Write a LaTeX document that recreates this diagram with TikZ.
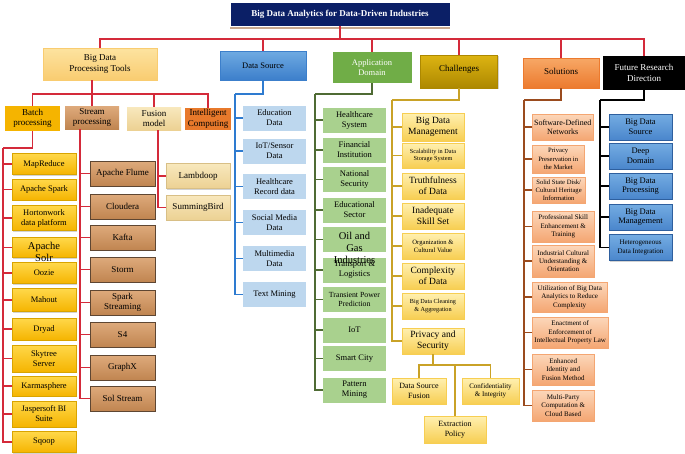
\documentclass[tikz,border=0pt]{standalone}
\usepackage{fontspec}
\setmainfont{Liberation Serif}
\usepackage{tikz}
\usetikzlibrary{positioning}
\usetikzlibrary{shadows}

\definecolor{navy}{HTML}{0B1F66}
\definecolor{tanline}{HTML}{C9A98E}
\definecolor{redline}{HTML}{D42A3A}
\definecolor{dsline}{HTML}{2E7BD0}
\definecolor{appline}{HTML}{4F6B34}
\definecolor{challine}{HTML}{C9A227}
\definecolor{solline}{HTML}{9A4B1E}
\definecolor{batchtop}{HTML}{FFD84A}
\definecolor{batchbot}{HTML}{F5B400}
\definecolor{batchedge}{HTML}{D9A400}
\definecolor{woodtop}{HTML}{DEAA7C}
\definecolor{woodbot}{HTML}{C08550}
\definecolor{woodedge}{HTML}{5E4632}
\definecolor{ltwoodtop}{HTML}{F8E8BD}
\definecolor{ltwoodbot}{HTML}{ECD193}
\definecolor{ltwoodedge}{HTML}{D8BF86}
\definecolor{intel}{HTML}{E8792B}
\definecolor{toolstop}{HTML}{FDE3A0}
\definecolor{toolsbot}{HTML}{F9CC70}
\definecolor{dstop}{HTML}{6FAAE2}
\definecolor{dsbot}{HTML}{3C7FCB}
\definecolor{dsitem}{HTML}{BDD7EE}
\definecolor{apphead}{HTML}{70AD47}
\definecolor{appitem}{HTML}{A9D18E}
\definecolor{chaltop}{HTML}{DDB412}
\definecolor{chalbot}{HTML}{AD8800}
\definecolor{citemtop}{HTML}{FFF0B0}
\definecolor{citembot}{HTML}{F7CE52}
\definecolor{soltop}{HTML}{F7A866}
\definecolor{solbot}{HTML}{EC7A2E}
\definecolor{sitemtop}{HTML}{FCD7BA}
\definecolor{sitembot}{HTML}{F4A672}
\definecolor{futtop}{HTML}{74ACE2}
\definecolor{futbot}{HTML}{4A86CC}
\definecolor{futedge}{HTML}{2E5F9E}

\tikzset{
 box/.style={rectangle, align=center, inner sep=1pt, font=\fontsize{8.5}{10}\selectfont},
 shad/.style={drop shadow={opacity=0.35, shadow xshift=1pt, shadow yshift=-1.2pt}},
 titlebox/.style={box, fill=navy, draw=white, text=white, font=\bfseries\fontsize{9}{11}\selectfont,
   minimum width=220pt, minimum height=24pt,
   drop shadow={opacity=1, fill=tanline, shadow xshift=0pt, shadow yshift=-2.5pt}},
 hdtools/.style={box, shad, top color=toolstop, bottom color=toolsbot, draw=toolsbot,
   minimum width=114pt, minimum height=32pt, font=\fontsize{9}{11}\selectfont},
 hdds/.style={box, shad, top color=dstop, bottom color=dsbot, draw=dsbot,
   minimum width=86pt, minimum height=29pt},
 hdapp/.style={box, fill=apphead, text=white, minimum width=79pt, minimum height=31pt},
 hdchal/.style={box, shad, top color=chaltop, bottom color=chalbot, draw=chalbot,
   minimum width=77pt, minimum height=33pt, font=\fontsize{9}{11}\selectfont},
 hdsol/.style={box, shad, top color=soltop, bottom color=solbot, draw=solbot,
   minimum width=76pt, minimum height=30pt, font=\fontsize{9}{11}\selectfont},
 hdfut/.style={box, fill=black, text=white, minimum width=82pt, minimum height=34pt,
   font=\fontsize{9}{11}\selectfont},
 subhd/.style={box, minimum height=23pt, font=\fontsize{9}{10.5}\selectfont},
 batchhd/.style={subhd, fill=batchbot, minimum width=55pt, minimum height=25pt},
 woodhd/.style={subhd, top color=woodtop, bottom color=woodbot, minimum width=54pt},
 ltwoodhd/.style={subhd, top color=ltwoodtop, bottom color=ltwoodbot, minimum width=54pt},
 intelhd/.style={subhd, fill=intel, minimum width=46pt, minimum height=22pt},
 batchbox/.style={box, shad, top color=batchtop, bottom color=batchbot, draw=batchedge,
   minimum width=64pt, minimum height=21pt},
 woodbox/.style={box, top color=woodtop, bottom color=woodbot, draw=woodedge,
   minimum width=65pt, minimum height=25pt, font=\fontsize{9}{10.5}\selectfont},
 ltwoodbox/.style={box, shad, top color=ltwoodtop, bottom color=ltwoodbot, draw=ltwoodedge,
   minimum width=64pt, minimum height=25pt, font=\fontsize{9}{10.5}\selectfont},
 dsbox/.style={box, fill=dsitem, minimum width=63pt, minimum height=25pt},
 appbox/.style={box, fill=appitem, minimum width=63pt, minimum height=25pt},
 chalbox/.style={box, shad, top color=citemtop, bottom color=citembot, draw=citembot,
   minimum width=62pt, minimum height=26pt, font=\fontsize{9.5}{11}\selectfont},
 solbox/.style={box, shad, anchor=west, top color=sitemtop, bottom color=sitembot, draw=sitembot,
   minimum height=30pt, font=\fontsize{7}{8.3}\selectfont},
 futbox/.style={box, shad, top color=futtop, bottom color=futbot, draw=futedge,
   minimum width=63pt, minimum height=26pt, font=\fontsize{8.5}{9.8}\selectfont},
 bigtext/.style={align=center, font=\fontsize{10.5}{12}\selectfont},
 tiny/.style={font=\fontsize{6.2}{7.4}\selectfont},
 link/.style={line width=1.1pt}
}

\begin{document}
\begin{tikzpicture}[x=1pt,y=-1pt]
 \useasboundingbox (0,0) rectangle (685,453);
 \node[titlebox] (title) at (340,14) {Big Data Analytics for Data-Driven Industries};

 % main branches
 \node[hdtools] (tools) at (100,64) {Big Data\\Processing Tools};
 \node[hdds] (ds) at (263,65.5) {Data Source};
 \node[hdapp] (app) at (372,67.5) {Application\\Domain};
 \node[hdchal] (chal) at (459,71.5) {\raisebox{6pt}{Challenges}};
 \node[hdsol] (sol) at (561,73) {\raisebox{3pt}{Solutions}};
 \node[hdfut] (fut) at (644,73) {Future Research\\Direction};

 \coordinate (topbus) at (340,39);
 \draw[link, redline] (title.south) -- (topbus);
 \foreach \n in {tools,ds,app,chal,sol,fut}
   \draw[link, redline] (topbus) -| (\n.north);

 % processing tools
 \node[batchhd] (batch) at (32.5,118.5) {Batch\\processing};
 \node[woodhd] (stream) at (92,117.5) {Stream\\processing};
 \node[ltwoodhd] (fusion) at (154,118.5) {Fusion\\model};
 \node[intelhd] (intel) at (208,119) {Intelligent\\Computing};

 \coordinate (toolbus) at (92,94);
 \draw[link, redline] (tools.south -| toolbus) -- (stream.north);
 \draw[link, redline] (batch.north) |- (toolbus) -| (intel.north);
 \draw[link, redline] (fusion.north) -- (fusion.north |- toolbus);

 \node[batchbox] (b1) at (44,164) {MapReduce};
 \node[batchbox] (b2) at (44,189.5) {Apache Spark};
 \node[batchbox, minimum height=25pt] (b3) at (44,218) {Hortonwork\\data platform};
 \node[batchbox, minimum height=20pt,
   label={[bigtext, yshift=-4.5pt]center:{Apache\\Solr}}] (b4) at (44,247.5) {};
 \node[batchbox] (b5) at (44,273) {Oozie};
 \node[batchbox, minimum height=23pt] (b6) at (44,300) {Mahout};
 \node[batchbox, minimum height=22pt] (b7) at (44,329) {Dryad};
 \node[batchbox, minimum height=27pt] (b8) at (44,358.5) {Skytree\\Server};
 \node[batchbox, minimum height=20pt] (b9) at (44,386) {Karmasphere};
 \node[batchbox, minimum height=26pt] (b10) at (44,414) {Jaspersoft BI\\Suite};
 \node[batchbox] (b11) at (44,442) {Sqoop};

 \node[woodbox] (s1) at (122.5,173.5) {Apache Flume};
 \node[woodbox] (s2) at (122.5,206.5) {Cloudera};
 \node[woodbox] (s3) at (122.5,237.5) {Kafta};
 \node[woodbox] (s4) at (122.5,269.5) {Storm};
 \node[woodbox] (s5) at (122.5,302.5) {Spark\\Streaming};
 \node[woodbox] (s6) at (122.5,334.5) {S4};
 \node[woodbox] (s7) at (122.5,367.5) {GraphX};
 \node[woodbox] (s8) at (122.5,398.5) {Sol Stream};

 \node[ltwoodbox] (f1) at (198,176) {Lambdoop};
 \node[ltwoodbox] (f2) at (198,207.5) {SummingBird};

 \coordinate (batchbus) at (3,148);
 \coordinate (streambus) at (80,129);
 \coordinate (fusionbus) at (158,130);
 \draw[link, redline] (batch.south) |- (batchbus);
 \foreach \i in {1,...,11}
   \draw[link, redline] (b\i.west) -| (batchbus);
 \foreach \i in {1,...,8}
   \draw[link, redline] (s\i.west) -| (streambus);
 \foreach \i in {1,2}
   \draw[link, redline] (f\i.west) -| (fusionbus);

 % data source
 \node[dsbox] (d1) at (274.5,118) {Education\\Data};
 \node[dsbox] (d2) at (274.5,151) {IoT/Sensor\\Data};
 \node[dsbox] (d3) at (274.5,186.5) {Healthcare\\Record data};
 \node[dsbox] (d4) at (274.5,222.5) {Social Media\\Data};
 \node[dsbox] (d5) at (274.5,258.5) {Multimedia\\Data};
 \node[dsbox] (d6) at (274.5,294.5) {Text Mining};

 \coordinate (dsbus) at (235,94);
 \draw[link, dsline] (ds.south) |- (dsbus);
 \foreach \i in {1,...,6}
   \draw[link, dsline] (d\i.west) -| (dsbus);

 % application domain
 \node[appbox] (a1) at (354.5,120) {Healthcare\\System};
 \node[appbox] (a2) at (354.5,150) {Financial\\Institution};
 \node[appbox] (a3) at (354.5,179.5) {National\\Security};
 \node[appbox] (a4) at (354.5,210) {Educational\\Sector};
 \node[appbox] (a6) at (354.5,270) {Transport \&\\Logistics};
 \node[appbox, label={[bigtext, yshift=-8pt]center:{Oil and\\Gas\\Industries}}] (a5) at (354.5,239.5) {};
 \node[appbox, font=\fontsize{7.8}{9}\selectfont] (a7) at (354.5,299.5) {Transient Power\\Prediction};
 \node[appbox] (a8) at (354.5,330) {IoT};
 \node[appbox] (a9) at (354.5,358.5) {Smart City};
 \node[appbox] (a10) at (354.5,390) {Pattern\\Mining};

 \coordinate (appbus) at (315,94);
 \draw[link, appline] (app.south) |- (appbus);
 \foreach \i in {1,...,10}
   \draw[link, appline] (a\i.west) -| (appbus);

 % challenges
 \node[chalbox, minimum height=28pt] (c1) at (433,127) {Big Data\\Management};
 \node[chalbox, tiny, minimum height=25pt] (c2) at (433,155.5) {Scalability in Data\\Storage System};
 \node[chalbox] (c3) at (433,186) {Truthfulness\\of Data};
 \node[chalbox] (c4) at (433,216) {Inadequate\\Skill Set};
 \node[chalbox, font=\fontsize{6.6}{7.8}\selectfont] (c5) at (433,246) {Organization \&\\Cultural Value};
 \node[chalbox] (c6) at (433,276) {Complexity\\of Data};
 \node[chalbox, tiny] (c7) at (433,306) {Big Data Cleaning\\\& Aggregation};
 \node[chalbox] (c8) at (433,341) {Privacy and\\Security};

 \coordinate (chalbus) at (392,100);
 \draw[link, challine] (chal.south) |- (chalbus);
 \foreach \i in {1,...,8}
   \draw[link, challine] (c\i.west) -| (chalbus);

 \node[chalbox, font=\fontsize{8}{9.5}\selectfont, minimum width=54pt] (dsf) at (419,391) {Data Source\\Fusion};
 \node[chalbox, font=\fontsize{7}{8.5}\selectfont, minimum width=57pt] (conf) at (490.5,391) {Confidentiality\\\& Integrity};
 \node[chalbox, font=\fontsize{8}{9.5}\selectfont, minimum height=27pt] (extr) at (455,429.5) {Extraction\\Policy};

 \coordinate (privbus) at (433,365);
 \draw[link, challine] (c8.south) -- (privbus);
 \draw[link, challine] (dsf.north) |- (privbus) -| (conf.north);
 \draw[link, challine] (extr.north) -- (extr.north |- privbus);

 % solutions
 \node[solbox, minimum width=61pt, minimum height=26pt, font=\fontsize{8}{9.5}\selectfont] (o1) at (532,127) {Software-Defined\\Networks};
 \node[solbox, minimum width=52pt, minimum height=28pt, font=\fontsize{6.6}{8.2}\selectfont] (o2) at (532,159) {Privacy\\Preservation in\\the Market};
 \node[solbox, minimum width=53pt, minimum height=26pt, font=\fontsize{6.6}{8}\selectfont] (o3) at (532,190) {Solid State Disk/\\Cultural Heritage\\Information};
 \node[solbox, minimum width=62pt, minimum height=31pt] (o4) at (532,226.5) {Professional Skill\\Enhancement \&\\Training};
 \node[solbox, minimum width=62pt, minimum height=32pt] (o5) at (532,261) {Industrial Cultural\\Understanding \&\\Orientation};
 \node[solbox, minimum width=75pt] (o6) at (532,297) {Utilization of Big Data\\Analytics to Reduce\\Complexity};
 \node[solbox, minimum width=76pt, minimum height=31pt] (o7) at (532,332.5) {Enactment of\\Enforcement of\\Intellectual Property Law};
 \node[solbox, minimum width=62pt, minimum height=31pt] (o8) at (532,369.5) {Enhanced\\Identity and\\Fusion Method};
 \node[solbox, minimum width=62pt, minimum height=31pt] (o9) at (532,405.5) {Multi-Party\\Computation \&\\Cloud Based};

 \coordinate (solbus) at (524,100);
 \draw[link, solline] (sol.south) |- (solbus);
 \foreach \i in {1,...,9}
   \draw[link, solline] (o\i.west) -| (solbus);

 % future research direction
 \node[futbox] (r1) at (640.5,127) {Big Data\\Source};
 \node[futbox] (r2) at (640.5,156) {Deep\\Domain};
 \node[futbox] (r3) at (640.5,186) {Big Data\\Processing};
 \node[futbox] (r4) at (640.5,217) {Big Data\\Management};
 \node[futbox, font=\fontsize{7}{8.5}\selectfont] (r5) at (640.5,247.5) {Heterogeneous\\Data Integration};

 \coordinate (futbus) at (600,100);
 \draw[link] (fut.south) |- (futbus);
 \foreach \i in {1,...,5}
   \draw[link] (r\i.west) -| (futbus);
\end{tikzpicture}
\end{document}
